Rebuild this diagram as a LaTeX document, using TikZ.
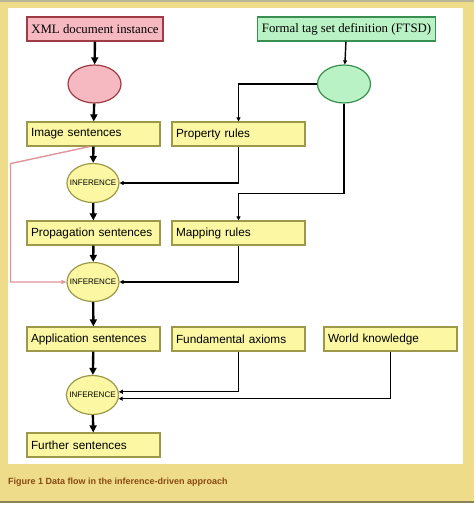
\documentclass[tikz,border=0pt]{standalone}
\usepackage{fontspec}
\setmainfont{Liberation Serif}
\setsansfont{Liberation Sans}
\usetikzlibrary{arrows.meta, positioning, calc, shapes.geometric}
\definecolor{frame}{HTML}{EEDC8A}
\definecolor{frameline}{HTML}{8C8455}
\definecolor{boxfill}{HTML}{FBF7A2}
\definecolor{boxline}{HTML}{9C9A4A}
\definecolor{pinkfill}{HTML}{F6B9C1}
\definecolor{pinkline}{HTML}{9E3B45}
\definecolor{greenfill}{HTML}{B9F2C4}
\definecolor{greenline}{HTML}{3A8E50}
\definecolor{backline}{HTML}{E0959C}
\definecolor{captext}{HTML}{8A4A12}
\tikzset{
  sentbox/.style ={draw=boxline, line width=1.2pt, fill=boxfill,
                   minimum height=24pt, text width=125pt, inner xsep=4pt,
                   inner ysep=0pt, align=left,
                   font=\sffamily\fontsize{11.8}{13}\selectfont},
  srcbox/.style  ={draw, line width=1.2pt, minimum height=24pt,
                   inner xsep=4pt, inner ysep=0pt,
                   font=\rmfamily\fontsize{12.8}{14}\selectfont},
  xmlbox/.style  ={srcbox, fill=pinkfill, draw=pinkline, minimum width=136pt},
  ftsdbox/.style ={srcbox, fill=greenfill, draw=greenline, minimum width=177pt},
  blob/.style    ={ellipse, line width=1.2pt, minimum width=53pt,
                   minimum height=38pt, inner sep=0pt},
  infer/.style   ={blob, draw=boxline, fill=boxfill, minimum width=52pt,
                   minimum height=39pt, font=\sffamily\fontsize{8}{9}\selectfont},
  mainflow/.style={-{Triangle[length=7pt,width=7pt]}, line width=2.4pt},
  sideflow/.style={-{Triangle[length=4pt,width=4pt]}, line width=1.4pt},
  backflow/.style={-{Triangle[length=5pt,width=4pt]}, line width=1.4pt, draw=backline}
}

\begin{document}
\begin{tikzpicture}[x=1pt, y=-1pt]
  % frame
  \useasboundingbox (0,0) rectangle (474,516);
  \fill[white] (0,0) rectangle (474,516);
  \fill[frame] (0,0) rectangle (474,502);
  \fill[white] (8,8) rectangle (463,464);
  \draw[frameline!60, line width=2pt] (0,1) -- (474,1);
  \draw[frameline, line width=2pt] (0,502) -- (474,502);

  % sources
  \node[xmlbox] (xml) at (95,29) {XML document instance};
  \node[ftsdbox] (ftsd) at (346.5,29) {Formal tag set definition (FTSD)};
  \node[blob, draw=pinkline, fill=pinkfill] (xmlell) at (94.5,84) {};
  \node[blob, draw=greenline, fill=greenfill] (ftsdell) at (344,84) {};

  % main column
  \node[sentbox] (img) at (93.5,134) {Image sentences};
  \node[infer] (inf1) at (93,183) {\makebox[0pt]{INFERENCE}};
  \node[sentbox] (prop) at (93.5,233) {Propagation sentences};
  \node[infer] (inf2) at (93,282) {\makebox[0pt]{INFERENCE}};
  \node[sentbox] (app) at (93.5,339) {Application sentences};
  \node[infer] (inf3) at (92.5,395) {\makebox[0pt]{INFERENCE}};
  \node[sentbox] (further) at (93.5,445) {Further sentences};

  % rules and knowledge
  \node[sentbox] (proprules) at (238.5,134) {Property rules};
  \node[sentbox] (maprules) at (238.5,233) {Mapping rules};
  \node[sentbox] (axioms) at (238.5,339) {Fundamental axioms};
  \node[sentbox] (world) at (390.5,339) {World knowledge};

  % main flow
  \draw[mainflow] (xml) -- (xmlell);
  \draw[mainflow] (xmlell) -- (img);
  \draw[mainflow] (img) -- (inf1);
  \draw[mainflow] (inf1) -- (prop);
  \draw[mainflow] (prop) -- (inf2);
  \draw[mainflow] (inf2) -- (app);
  \draw[mainflow] (app) -- (inf3);
  \draw[mainflow] (inf3) -- (further);

  % side flow
  \draw[sideflow] (ftsd) -- (ftsdell);
  \draw[sideflow] (ftsdell.west) -| (proprules.north);
  \draw[sideflow] (ftsdell.south) -- ++(0,90) -| (maprules.north);
  \draw[sideflow] (proprules.south) |- (inf1.east);
  \draw[sideflow] (maprules.south) |- (inf2.east);
  \draw[sideflow] (axioms.south) |- (inf3.7);
  \draw[sideflow] (world.south) |- (inf3.-8);
  \draw[backflow] ($(img.south)+(-4,0)$) -- ++(-79,17) |- (inf2.west);

  % caption
  \node[anchor=west, inner sep=0pt, text=captext,
        font=\sffamily\bfseries\fontsize{9}{11}\selectfont] (cap) at (8,482)
        {Figure 1 Data flow in the inference-driven approach};
\end{tikzpicture}
\end{document}
